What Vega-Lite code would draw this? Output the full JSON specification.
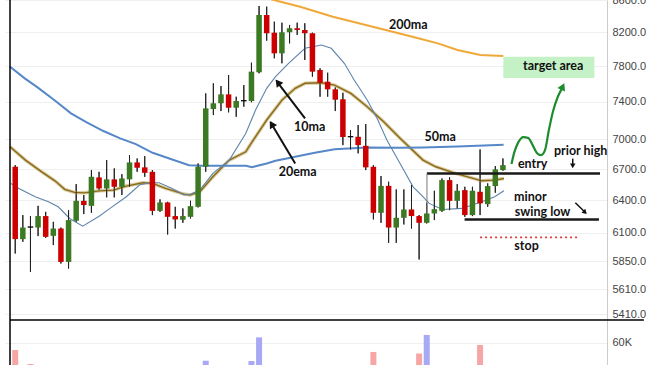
{
 "$schema": "https://vega.github.io/schema/vega-lite/v6.json",
 "width": 602, "height": 365,
 "autosize": {"type": "none"},
 "padding": {"left": 5, "top": 0, "right": 43, "bottom": 0},
 "background": "white",
 "config": {"view": {"stroke": null}},
 "datasets": {
  "candles": [
   {"i":0,"o":6724,"h":6740,"l":5916,"c":6043,"d":"down","v":53300},
   {"i":1,"o":6043,"h":6261,"l":6019,"c":6147,"d":"up","v":null},
   {"i":2,"o":6145,"h":6252,"l":5758,"c":6158,"d":"doji","v":40900},
   {"i":3,"o":6147,"h":6347,"l":6070,"c":6252,"d":"up","v":null},
   {"i":4,"o":6252,"h":6291,"l":6054,"c":6063,"d":"down","v":null},
   {"i":5,"o":6072,"h":6199,"l":5990,"c":6138,"d":"up","v":null},
   {"i":6,"o":6138,"h":6147,"l":5829,"c":5843,"d":"down","v":null},
   {"i":7,"o":5843,"h":6307,"l":5786,"c":6215,"d":"up","v":null},
   {"i":8,"o":6209,"h":6554,"l":6199,"c":6394,"d":"up","v":null},
   {"i":9,"o":6394,"h":6449,"l":6270,"c":6354,"d":"down","v":null},
   {"i":10,"o":6347,"h":6691,"l":6282,"c":6625,"d":"up","v":null},
   {"i":11,"o":6619,"h":6674,"l":6496,"c":6512,"d":"down","v":null},
   {"i":12,"o":6512,"h":6790,"l":6427,"c":6600,"d":"up","v":null},
   {"i":13,"o":6600,"h":6708,"l":6427,"c":6528,"d":"down","v":null},
   {"i":14,"o":6528,"h":6651,"l":6449,"c":6609,"d":"up","v":null},
   {"i":15,"o":6600,"h":6840,"l":6528,"c":6767,"d":"up","v":null},
   {"i":16,"o":6767,"h":6807,"l":6674,"c":6714,"d":"down","v":null},
   {"i":17,"o":6718,"h":6830,"l":6625,"c":6664,"d":"down","v":null},
   {"i":18,"o":6674,"h":6691,"l":6261,"c":6300,"d":"down","v":null},
   {"i":19,"o":6300,"h":6408,"l":6291,"c":6379,"d":"up","v":null},
   {"i":20,"o":6379,"h":6385,"l":6084,"c":6245,"d":"down","v":null},
   {"i":21,"o":6252,"h":6338,"l":6138,"c":6221,"d":"down","v":null},
   {"i":22,"o":6218,"h":6323,"l":6190,"c":6252,"d":"up","v":null},
   {"i":23,"o":6245,"h":6395,"l":6230,"c":6344,"d":"up","v":null},
   {"i":24,"o":6338,"h":6757,"l":6332,"c":6724,"d":"up","v":null},
   {"i":25,"o":6724,"h":7493,"l":6674,"c":7329,"d":"up","v":43800},
   {"i":26,"o":7322,"h":7605,"l":7257,"c":7384,"d":"up","v":null},
   {"i":27,"o":7384,"h":7574,"l":7300,"c":7482,"d":"up","v":null},
   {"i":28,"o":7482,"h":7699,"l":7286,"c":7336,"d":"down","v":null},
   {"i":29,"o":7336,"h":7456,"l":7239,"c":7409,"d":"up","v":null},
   {"i":30,"o":7405,"h":7585,"l":7347,"c":7420,"d":"doji","v":null},
   {"i":31,"o":7409,"h":7840,"l":7395,"c":7737,"d":"up","v":43500},
   {"i":32,"o":7730,"h":8524,"l":7718,"c":8412,"d":"up","v":64600},
   {"i":33,"o":8412,"h":8516,"l":8099,"c":8188,"d":"down","v":null},
   {"i":34,"o":8195,"h":8329,"l":7891,"c":7949,"d":"down","v":null},
   {"i":35,"o":7949,"h":8317,"l":7833,"c":8200,"d":"up","v":null},
   {"i":36,"o":8200,"h":8289,"l":8067,"c":8249,"d":"up","v":null},
   {"i":37,"o":8249,"h":8317,"l":8168,"c":8228,"d":"down","v":null},
   {"i":38,"o":8228,"h":8310,"l":7871,"c":8188,"d":"down","v":null},
   {"i":39,"o":8188,"h":8195,"l":7680,"c":7737,"d":"down","v":null},
   {"i":40,"o":7756,"h":7775,"l":7456,"c":7612,"d":"down","v":null},
   {"i":41,"o":7623,"h":7725,"l":7456,"c":7538,"d":"down","v":null},
   {"i":42,"o":7538,"h":7560,"l":7300,"c":7423,"d":"down","v":null},
   {"i":43,"o":7428,"h":7500,"l":6942,"c":7025,"d":"down","v":null},
   {"i":44,"o":7022,"h":7098,"l":6898,"c":7036,"d":"doji","v":null},
   {"i":45,"o":7028,"h":7151,"l":6858,"c":6942,"d":"down","v":null},
   {"i":46,"o":6935,"h":7162,"l":6691,"c":6718,"d":"down","v":null},
   {"i":47,"o":6724,"h":6740,"l":6221,"c":6282,"d":"down","v":51600},
   {"i":48,"o":6282,"h":6632,"l":6190,"c":6537,"d":"up","v":null},
   {"i":49,"o":6537,"h":6577,"l":6010,"c":6147,"d":"down","v":null},
   {"i":50,"o":6147,"h":6503,"l":6010,"c":6236,"d":"up","v":null},
   {"i":51,"o":6236,"h":6503,"l":6175,"c":6313,"d":"up","v":null},
   {"i":52,"o":6313,"h":6545,"l":6138,"c":6252,"d":"down","v":null},
   {"i":53,"o":6252,"h":6261,"l":5864,"c":6190,"d":"down","v":50200},
   {"i":54,"o":6190,"h":6376,"l":6184,"c":6276,"d":"up","v":66700},
   {"i":55,"o":6276,"h":6490,"l":6215,"c":6316,"d":"up","v":null},
   {"i":56,"o":6300,"h":6609,"l":6291,"c":6593,"d":"up","v":null},
   {"i":57,"o":6593,"h":6619,"l":6307,"c":6394,"d":"down","v":null},
   {"i":58,"o":6394,"h":6554,"l":6323,"c":6490,"d":"up","v":null},
   {"i":59,"o":6496,"h":6528,"l":6245,"c":6261,"d":"down","v":null},
   {"i":60,"o":6261,"h":6528,"l":6252,"c":6490,"d":"up","v":null},
   {"i":61,"o":6480,"h":6898,"l":6261,"c":6370,"d":"down","v":57800},
   {"i":62,"o":6363,"h":6561,"l":6338,"c":6535,"d":"up","v":null},
   {"i":63,"o":6535,"h":6731,"l":6471,"c":6698,"d":"up","v":null},
   {"i":64,"o":6691,"h":6807,"l":6684,"c":6740,"d":"up","v":null}
  ],
  "ma": [
   {"s":"50ma","i":-0.68,"p":7794},{"s":"50ma","i":1.25,"p":7661},{"s":"50ma","i":2.93,"p":7560},{"s":"50ma","i":5.12,"p":7420},{"s":"50ma","i":7.32,"p":7275},{"s":"50ma","i":9.38,"p":7180},{"s":"50ma","i":11.57,"p":7088},{"s":"50ma","i":13.77,"p":7012},{"s":"50ma","i":15.83,"p":6953},{"s":"50ma","i":18.03,"p":6864},{"s":"50ma","i":20.22,"p":6807},{"s":"50ma","i":22.8,"p":6740},{"s":"50ma","i":24.48,"p":6733},{"s":"50ma","i":30.29,"p":6733},{"s":"50ma","i":31.06,"p":6720},{"s":"50ma","i":33.0,"p":6757},{"s":"50ma","i":34.16,"p":6783},{"s":"50ma","i":36.74,"p":6823},{"s":"50ma","i":39.32,"p":6864},{"s":"50ma","i":41.9,"p":6901},{"s":"50ma","i":46.15,"p":6918},{"s":"50ma","i":50.54,"p":6914},{"s":"50ma","i":53.51,"p":6918},{"s":"50ma","i":58.03,"p":6928},{"s":"50ma","i":64.09,"p":6945},
   {"s":"20ema","i":-0.68,"p":6925},{"s":"20ema","i":1.34,"p":6790},{"s":"20ema","i":3.48,"p":6674},{"s":"20ema","i":5.21,"p":6586},{"s":"20ema","i":6.5,"p":6503},{"s":"20ema","i":7.79,"p":6474},{"s":"20ema","i":9.08,"p":6470},{"s":"20ema","i":11.06,"p":6489},{"s":"20ema","i":12.86,"p":6496},{"s":"20ema","i":14.58,"p":6535},{"s":"20ema","i":16.74,"p":6567},{"s":"20ema","i":18.03,"p":6561},{"s":"20ema","i":19.74,"p":6512},{"s":"20ema","i":22.15,"p":6458},{"s":"20ema","i":22.93,"p":6449},{"s":"20ema","i":24.22,"p":6480},{"s":"20ema","i":25.94,"p":6625},{"s":"20ema","i":28.09,"p":6790},{"s":"20ema","i":30.25,"p":6874},{"s":"20ema","i":31.1,"p":6977},{"s":"20ema","i":33.0,"p":7204},{"s":"20ema","i":35.02,"p":7420},{"s":"20ema","i":36.74,"p":7549},{"s":"20ema","i":38.03,"p":7605},{"s":"20ema","i":40.18,"p":7612},{"s":"20ema","i":41.9,"p":7585},{"s":"20ema","i":44.05,"p":7493},{"s":"20ema","i":46.19,"p":7347},{"s":"20ema","i":48.35,"p":7186},{"s":"20ema","i":50.5,"p":7012},{"s":"20ema","i":53.51,"p":6790},{"s":"20ema","i":55.19,"p":6724},{"s":"20ema","i":57.77,"p":6658},{"s":"20ema","i":61.21,"p":6586},{"s":"20ema","i":62.93,"p":6593},{"s":"20ema","i":64.13,"p":6609},
   {"s":"10ma","i":-0.59,"p":6561},{"s":"10ma","i":0.48,"p":6512},{"s":"10ma","i":2.63,"p":6433},{"s":"10ma","i":4.35,"p":6385},{"s":"10ma","i":5.64,"p":6338},{"s":"10ma","i":7.15,"p":6230},{"s":"10ma","i":8.86,"p":6160},{"s":"10ma","i":11.06,"p":6252},{"s":"10ma","i":12.44,"p":6323},{"s":"10ma","i":14.58,"p":6433},{"s":"10ma","i":16.31,"p":6545},{"s":"10ma","i":17.6,"p":6567},{"s":"10ma","i":18.89,"p":6567},{"s":"10ma","i":20.61,"p":6512},{"s":"10ma","i":22.15,"p":6449},{"s":"10ma","i":22.93,"p":6455},{"s":"10ma","i":24.22,"p":6496},{"s":"10ma","i":25.94,"p":6658},{"s":"10ma","i":28.09,"p":6790},{"s":"10ma","i":30.25,"p":7063},{"s":"10ma","i":31.54,"p":7311},{"s":"10ma","i":33.0,"p":7549},{"s":"10ma","i":34.16,"p":7680},{"s":"10ma","i":35.87,"p":7833},{"s":"10ma","i":38.03,"p":8008},{"s":"10ma","i":40.18,"p":8047},{"s":"10ma","i":41.47,"p":8008},{"s":"10ma","i":43.19,"p":7833},{"s":"10ma","i":44.48,"p":7642},{"s":"10ma","i":46.19,"p":7420},{"s":"10ma","i":47.48,"p":7222},{"s":"10ma","i":48.77,"p":6994},{"s":"10ma","i":50.5,"p":6757},{"s":"10ma","i":52.21,"p":6528},{"s":"10ma","i":53.5,"p":6433},{"s":"10ma","i":54.32,"p":6370},{"s":"10ma","i":56.05,"p":6313},{"s":"10ma","i":58.63,"p":6323},{"s":"10ma","i":61.21,"p":6385},{"s":"10ma","i":62.93,"p":6433},{"s":"10ma","i":64.13,"p":6490},
   {"s":"200ma","i":33.0,"p":8625},{"s":"200ma","i":33.94,"p":8600},{"s":"200ma","i":37.39,"p":8515},{"s":"200ma","i":41.68,"p":8390},{"s":"200ma","i":46.0,"p":8289},{"s":"200ma","i":50.3,"p":8188},{"s":"200ma","i":52.88,"p":8128},{"s":"200ma","i":55.46,"p":8067},{"s":"200ma","i":58.03,"p":7988},{"s":"200ma","i":61.04,"p":7929},{"s":"200ma","i":64.05,"p":7918}
  ],
  "curve": [
   {"n":0,"i":65.12,"p":6751},{"n":1,"i":65.5,"p":6871},{"n":2,"i":66.03,"p":6973},{"n":3,"i":66.68,"p":7025},{"n":4,"i":67.32,"p":7015},{"n":5,"i":67.97,"p":6932},{"n":6,"i":68.48,"p":6860},{"n":7,"i":69.0,"p":6840},{"n":8,"i":69.52,"p":6891},{"n":9,"i":70.03,"p":7098},{"n":10,"i":70.55,"p":7290},{"n":11,"i":71.19,"p":7453},{"n":12,"i":71.7,"p":7540}
  ],
  "segs": [
   {"k":"arrow","i":38.03,"p":7222,"i2":34.3,"p2":7630},
   {"k":"arrow","i":36.74,"p":6757,"i2":33.5,"p2":7180},
   {"k":"level","i":54.03,"p":6658,"i2":76.74,"p2":6658},
   {"k":"level","i":58.97,"p":6221,"i2":76.6,"p2":6221},
   {"k":"thin","i":54.03,"p":6658,"i2":54.03,"p2":6276},
   {"k":"thinb","i":73.16,"p":6805,"i2":73.16,"p2":6745},
   {"k":"thinb","i":73.5,"p":6376,"i2":74.75,"p2":6290},
   {"k":"stop","i":61.0,"p":6058,"i2":73.77,"p2":6058}
  ],
  "heads": [
   {"k":"black","i":34.46,"p":7615,"ang":322},
   {"k":"black","i":33.65,"p":7162,"ang":329},
   {"k":"green","i":71.85,"p":7570,"ang":25},
   {"k":"small","i":73.16,"p":6733,"ang":180},
   {"k":"small","i":74.78,"p":6286,"ang":134}
  ],
  "zone": [{"i":64.05,"p":7910,"i2":76.0,"p2":7664}],
  "notes": [
   {"i":51.57,"p":8289,"t":"200ma"},
   {"i":55.77,"p":7028,"t":"50ma"},
   {"i":38.63,"p":7133,"t":"10ma"},
   {"i":37.06,"p":6668,"t":"20ema"},
   {"i":70.6,"p":7800,"t":"target area"},
   {"i":74.2,"p":6881,"t":"prior high"},
   {"i":67.9,"p":6748,"t":"entry"},
   {"i":67.6,"p":6428,"t":"minor"},
   {"i":69.2,"p":6294,"t":"swing low"},
   {"i":67.1,"p":5980,"t":"stop"}
  ]
 },
 "layer": [
  {
   "data": {"name": "candles"},
   "mark": {"type": "rule", "color": "#222", "strokeWidth": 1},
   "encoding": {
    "x": {"field": "i", "type": "quantitative", "scale": {"domain": [-0.684, 77.0], "nice": false, "zero": false},
          "axis": {"values": [9, 24.3, 40.2, 52.2], "grid": true, "gridColor": "#ececec", "labels": false, "ticks": false, "domain": false, "title": null}},
    "y": {"field": "l", "type": "quantitative", "scale": {"type": "log", "domain": [5363, 8600], "range": [320, 0], "nice": false},
          "axis": {"orient": "right", "values": [5410, 5610, 5850, 6100, 6400, 6700, 7000, 7400, 7800, 8200, 8600], "format": ".1f", "grid": true, "gridColor": "#efefef", "ticks": false, "domainColor": "#cccccc", "labelColor": "#444444", "labelFontSize": 11, "labelFont": "Liberation Sans", "labelPadding": 5, "title": null}},
    "y2": {"field": "h"}
   }
  },
  {
   "data": {"name": "candles"},
   "mark": {"type": "bar", "size": 6},
   "encoding": {
    "x": {"field": "i", "type": "quantitative", "scale": {"domain": [-0.684, 77.0], "nice": false, "zero": false}, "axis": null},
    "y": {"field": "v", "type": "quantitative", "scale": {"domain": [0, 80000], "range": [410, 320], "nice": false},
          "axis": {"orient": "right", "values": [60000], "labelExpr": "format(datum.value / 1000, 'd') + 'K'", "grid": true, "gridColor": "#efefef", "ticks": false, "domainColor": "#cccccc", "labelColor": "#444444", "labelFontSize": 11, "labelFont": "Liberation Sans", "labelPadding": 5, "title": null}},
    "color": {"field": "d", "type": "nominal", "scale": {"domain": ["up", "down", "doji"], "range": ["#a8a8f4", "#f7a6a6", "#f7a6a6"]}, "legend": null}
   }
  },
  {
   "data": {"name": "ma"},
   "transform": [{"filter": "datum.s === '20ema'"}],
   "mark": {"type": "line", "color": "#d9cc9f", "strokeWidth": 3.5},
   "encoding": {
    "x": {"field": "i", "type": "quantitative", "scale": {"domain": [-0.684, 77.0], "nice": false, "zero": false}, "axis": null},
    "y": {"field": "p", "type": "quantitative", "scale": {"type": "log", "domain": [5363, 8600], "range": [320, 0], "nice": false}, "axis": null}
   }
  },
  {
   "data": {"name": "ma"},
   "transform": [{"filter": "datum.s === '20ema'"}],
   "mark": {"type": "line", "color": "#8a6a1c", "strokeWidth": 1.4},
   "encoding": {
    "x": {"field": "i", "type": "quantitative", "scale": {"domain": [-0.684, 77.0], "nice": false, "zero": false}, "axis": null},
    "y": {"field": "p", "type": "quantitative", "scale": {"type": "log", "domain": [5363, 8600], "range": [320, 0], "nice": false}, "axis": null}
   }
  },
  {
   "data": {"name": "ma"},
   "transform": [{"filter": "datum.s === '50ma'"}],
   "mark": {"type": "line", "color": "#5688c8", "strokeWidth": 2},
   "encoding": {
    "x": {"field": "i", "type": "quantitative", "scale": {"domain": [-0.684, 77.0], "nice": false, "zero": false}, "axis": null},
    "y": {"field": "p", "type": "quantitative", "scale": {"type": "log", "domain": [5363, 8600], "range": [320, 0], "nice": false}, "axis": null}
   }
  },
  {
   "data": {"name": "ma"},
   "transform": [{"filter": "datum.s === '10ma'"}],
   "mark": {"type": "line", "color": "#5f84ab", "strokeWidth": 1.1},
   "encoding": {
    "x": {"field": "i", "type": "quantitative", "scale": {"domain": [-0.684, 77.0], "nice": false, "zero": false}, "axis": null},
    "y": {"field": "p", "type": "quantitative", "scale": {"type": "log", "domain": [5363, 8600], "range": [320, 0], "nice": false}, "axis": null}
   }
  },
  {
   "data": {"name": "ma"},
   "transform": [{"filter": "datum.s === '200ma'"}],
   "mark": {"type": "line", "color": "#f0a838", "strokeWidth": 2, "clip": true},
   "encoding": {
    "x": {"field": "i", "type": "quantitative", "scale": {"domain": [-0.684, 77.0], "nice": false, "zero": false}, "axis": null},
    "y": {"field": "p", "type": "quantitative", "scale": {"type": "log", "domain": [5363, 8600], "range": [320, 0], "nice": false}, "axis": null}
   }
  },
  {
   "data": {"name": "zone"},
   "mark": {"type": "rect", "color": "#c4f2c6"},
   "encoding": {
    "x": {"field": "i", "type": "quantitative", "scale": {"domain": [-0.684, 77.0], "nice": false, "zero": false}, "axis": null},
    "x2": {"field": "i2"},
    "y": {"field": "p", "type": "quantitative", "scale": {"type": "log", "domain": [5363, 8600], "range": [320, 0], "nice": false}, "axis": null},
    "y2": {"field": "p2"}
   }
  },
  {
   "data": {"name": "candles"},
   "mark": {"type": "rule", "color": "#222", "strokeWidth": 1},
   "encoding": {
    "x": {"field": "i", "type": "quantitative", "scale": {"domain": [-0.684, 77.0], "nice": false, "zero": false}, "axis": null},
    "y": {"field": "l", "type": "quantitative", "scale": {"type": "log", "domain": [5363, 8600], "range": [320, 0], "nice": false}, "axis": null},
    "y2": {"field": "h"}
   }
  },
  {
   "data": {"name": "candles"},
   "mark": {"type": "bar", "size": 5.5},
   "encoding": {
    "x": {"field": "i", "type": "quantitative", "scale": {"domain": [-0.684, 77.0], "nice": false, "zero": false}, "axis": null},
    "y": {"field": "o", "type": "quantitative", "scale": {"type": "log", "domain": [5363, 8600], "range": [320, 0], "nice": false}, "axis": null},
    "y2": {"field": "c"},
    "color": {"field": "d", "type": "nominal", "scale": {"domain": ["up", "down", "doji"], "range": ["#3b7a22", "#cc0000", "#111111"]}, "legend": null}
   }
  },
  {
   "data": {"name": "segs"},
   "transform": [{"filter": "datum.k === 'arrow'"}],
   "mark": {"type": "rule", "color": "#111111", "strokeWidth": 2},
   "encoding": {
    "x": {"field": "i", "type": "quantitative", "scale": {"domain": [-0.684, 77.0], "nice": false, "zero": false}, "axis": null},
    "x2": {"field": "i2"},
    "y": {"field": "p", "type": "quantitative", "scale": {"type": "log", "domain": [5363, 8600], "range": [320, 0], "nice": false}, "axis": null},
    "y2": {"field": "p2"}
   }
  },
  {
   "data": {"name": "segs"},
   "transform": [{"filter": "datum.k === 'level'"}],
   "mark": {"type": "rule", "color": "#1a1a1a", "strokeWidth": 2.5},
   "encoding": {
    "x": {"field": "i", "type": "quantitative", "scale": {"domain": [-0.684, 77.0], "nice": false, "zero": false}, "axis": null},
    "x2": {"field": "i2"},
    "y": {"field": "p", "type": "quantitative", "scale": {"type": "log", "domain": [5363, 8600], "range": [320, 0], "nice": false}, "axis": null},
    "y2": {"field": "p2"}
   }
  },
  {
   "data": {"name": "segs"},
   "transform": [{"filter": "datum.k === 'thin'"}],
   "mark": {"type": "rule", "color": "#777777", "strokeWidth": 1},
   "encoding": {
    "x": {"field": "i", "type": "quantitative", "scale": {"domain": [-0.684, 77.0], "nice": false, "zero": false}, "axis": null},
    "x2": {"field": "i2"},
    "y": {"field": "p", "type": "quantitative", "scale": {"type": "log", "domain": [5363, 8600], "range": [320, 0], "nice": false}, "axis": null},
    "y2": {"field": "p2"}
   }
  },
  {
   "data": {"name": "segs"},
   "transform": [{"filter": "datum.k === 'thinb'"}],
   "mark": {"type": "rule", "color": "#111111", "strokeWidth": 1.5},
   "encoding": {
    "x": {"field": "i", "type": "quantitative", "scale": {"domain": [-0.684, 77.0], "nice": false, "zero": false}, "axis": null},
    "x2": {"field": "i2"},
    "y": {"field": "p", "type": "quantitative", "scale": {"type": "log", "domain": [5363, 8600], "range": [320, 0], "nice": false}, "axis": null},
    "y2": {"field": "p2"}
   }
  },
  {
   "data": {"name": "segs"},
   "transform": [{"filter": "datum.k === 'stop'"}],
   "mark": {"type": "rule", "color": "#e23c3c", "strokeWidth": 1.8, "strokeDash": [2, 3]},
   "encoding": {
    "x": {"field": "i", "type": "quantitative", "scale": {"domain": [-0.684, 77.0], "nice": false, "zero": false}, "axis": null},
    "x2": {"field": "i2"},
    "y": {"field": "p", "type": "quantitative", "scale": {"type": "log", "domain": [5363, 8600], "range": [320, 0], "nice": false}, "axis": null},
    "y2": {"field": "p2"}
   }
  },
  {
   "data": {"name": "curve"},
   "mark": {"type": "line", "color": "#1e8c2e", "strokeWidth": 2.2, "interpolate": "monotone"},
   "encoding": {
    "x": {"field": "i", "type": "quantitative", "scale": {"domain": [-0.684, 77.0], "nice": false, "zero": false}, "axis": null},
    "y": {"field": "p", "type": "quantitative", "scale": {"type": "log", "domain": [5363, 8600], "range": [320, 0], "nice": false}, "axis": null},
    "order": {"field": "n", "type": "quantitative"}
   }
  },
  {
   "data": {"name": "heads"},
   "transform": [{"filter": "datum.k === 'black'"}],
   "mark": {"type": "point", "shape": "triangle-up", "filled": true, "color": "#111111", "size": 70, "opacity": 1},
   "encoding": {
    "x": {"field": "i", "type": "quantitative", "scale": {"domain": [-0.684, 77.0], "nice": false, "zero": false}, "axis": null},
    "y": {"field": "p", "type": "quantitative", "scale": {"type": "log", "domain": [5363, 8600], "range": [320, 0], "nice": false}, "axis": null},
    "angle": {"field": "ang", "type": "quantitative", "scale": null}
   }
  },
  {
   "data": {"name": "heads"},
   "transform": [{"filter": "datum.k === 'green'"}],
   "mark": {"type": "point", "shape": "triangle-up", "filled": true, "color": "#1e8c2e", "size": 70, "opacity": 1},
   "encoding": {
    "x": {"field": "i", "type": "quantitative", "scale": {"domain": [-0.684, 77.0], "nice": false, "zero": false}, "axis": null},
    "y": {"field": "p", "type": "quantitative", "scale": {"type": "log", "domain": [5363, 8600], "range": [320, 0], "nice": false}, "axis": null},
    "angle": {"field": "ang", "type": "quantitative", "scale": null}
   }
  },
  {
   "data": {"name": "heads"},
   "transform": [{"filter": "datum.k === 'small'"}],
   "mark": {"type": "point", "shape": "triangle-up", "filled": true, "color": "#111111", "size": 30, "opacity": 1},
   "encoding": {
    "x": {"field": "i", "type": "quantitative", "scale": {"domain": [-0.684, 77.0], "nice": false, "zero": false}, "axis": null},
    "y": {"field": "p", "type": "quantitative", "scale": {"type": "log", "domain": [5363, 8600], "range": [320, 0], "nice": false}, "axis": null},
    "angle": {"field": "ang", "type": "quantitative", "scale": null}
   }
  },
  {
   "data": {"name": "notes"},
   "mark": {"type": "text", "font": "Lato", "fontWeight": "bold", "fontSize": 12.5, "color": "#111111", "align": "center", "baseline": "middle"},
   "encoding": {
    "x": {"field": "i", "type": "quantitative", "scale": {"domain": [-0.684, 77.0], "nice": false, "zero": false}, "axis": null},
    "y": {"field": "p", "type": "quantitative", "scale": {"type": "log", "domain": [5363, 8600], "range": [320, 0], "nice": false}, "axis": null},
    "text": {"field": "t", "type": "nominal"}
   }
  },
  {
   "data": {"values": [{}]},
   "mark": {"type": "rule", "color": "#000000", "strokeWidth": 1.5},
   "encoding": {
    "x": {"datum": -0.684, "type": "quantitative", "scale": {"domain": [-0.684, 77.0], "nice": false, "zero": false}, "axis": null}
   }
  },
  {
   "data": {"values": [{}]},
   "mark": {"type": "rule", "color": "#000000", "strokeWidth": 1.5},
   "encoding": {
    "x": {"datum": -0.684, "type": "quantitative", "scale": {"domain": [-0.684, 77.0], "nice": false, "zero": false}, "axis": null},
    "x2": {"datum": 82.5},
    "y": {"datum": 5363, "type": "quantitative", "scale": {"type": "log", "domain": [5363, 8600], "range": [320, 0], "nice": false}, "axis": null}
   }
  }
 ],
 "resolve": {"scale": {"y": "independent", "color": "independent"}, "axis": {"y": "independent"}}
}
